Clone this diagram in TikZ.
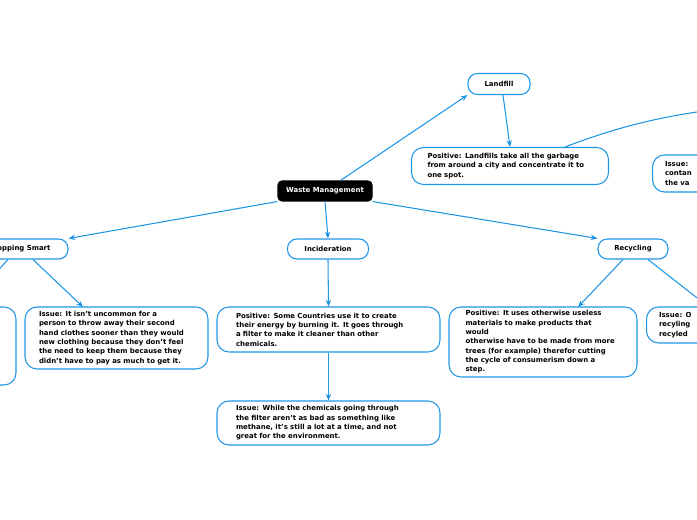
\documentclass[tikz,border=0pt]{standalone}
\usepackage{fontspec}
\setmainfont{DejaVu Sans}
\usetikzlibrary{arrows.meta}
\definecolor{lineblue}{RGB}{30,150,230}
\begin{document}
\begin{tikzpicture}[x=0.75pt,y=-0.75pt,
  box/.style={draw=lineblue, line width=0.8pt, rounded corners=9pt, fill=white, font=\bfseries\fontsize{5.2}{7}\selectfont, align=left, inner sep=0pt},
  topic/.style={box, rounded corners=7pt, align=center},
  link/.style={draw=lineblue, line width=0.8pt, -{Stealth[length=5pt,width=4pt]}},
  plain/.style={draw=lineblue, line width=0.8pt}]
\useasboundingbox (0,0) rectangle (697,520);
\clip (0,0) rectangle (697,520);
\node[box, draw=black, fill=black, text=white, rounded corners=3pt, minimum width=94pt*0.75, minimum height=20pt*0.75, align=center] (wm) at (325,191) {Waste Management};
\node[topic, minimum width=62*0.75pt, minimum height=21*0.75pt] (lf) at (499,84) {Landfill};
\node[box, minimum width=197*0.75pt, minimum height=37*0.75pt, text width=165*0.75pt] (lfp) at (510,166) {Positive: Landfills take all the garbage\\from around a city and concentrate it to\\one spot.};
\node[box, minimum width=110*0.75pt, minimum height=37*0.75pt, text width=85*0.75pt, anchor=west] (lfi) at (652,173.5) {Issue: \\contan\\the va};
\node[topic, minimum width=98*0.75pt, minimum height=20*0.75pt] (sh) at (19,249) {Shopping Smart};
\node[topic, minimum width=81*0.75pt, minimum height=20*0.75pt] (in) at (328,249) {Incideration};
\node[topic, minimum width=70*0.75pt, minimum height=20*0.75pt] (rc) at (633,249) {Recycling};
\node[box, minimum width=183*0.75pt, minimum height=62*0.75pt, text width=155*0.75pt] (shi) at (116.5,338) {Issue: It isn't uncommon for a\\person to throw away their second\\hand clothes sooner than they would\\new clothing because they don't feel\\the need to keep them because they\\didn't have to pay as much to get it.};
\node[box, minimum width=60*0.75pt, minimum height=78*0.75pt] (shp) at (-14,346) {};
\node[box, minimum width=223*0.75pt, minimum height=45*0.75pt, text width=185*0.75pt] (inp) at (328.5,329.5) {Positive: Some Countries use it to create\\their energy by burning it. It goes through\\a filter to make it cleaner than other\\chemicals.};
\node[box, minimum width=223*0.75pt, minimum height=44*0.75pt, text width=185*0.75pt] (ini) at (328.5,423) {Issue: While the chemicals going through\\the filter aren't as bad as something like\\methane, it's still a lot at a time, and not\\great for the environment.};
\node[box, minimum width=188*0.75pt, minimum height=70*0.75pt, text width=155*0.75pt] (rcp) at (543,342) {Positive: It uses otherwise useless\\materials to make products that\\would\\otherwise have to be made from more\\trees (for example) therefor cutting\\the cycle of consumerism down a\\step.};
\node[box, minimum width=110*0.75pt, minimum height=36*0.75pt, text width=85*0.75pt, anchor=west] (rci) at (646,325) {Issue: O\\recyling\\recyled};
\coordinate (far) at (770,105);
\coordinate (shl) at (-20,290);
\draw[link] (wm.north east) ++(-32,0) -- (lf.south west);
\draw[link] (lf.south) ++(4,0) -- (lfp.north);
\draw[plain] (lfp.north) ++(55,0) .. controls (610,130) and (670,110) .. (far);
\draw[link] (wm.south west) -- (sh.north east);
\draw[link] (wm.south) -- (in.north);
\draw[link] (wm.south east) -- (rc.north west);
\draw[link] (sh.south) ++(14,0) -- (83,307);
\draw[plain] (sh.south) ++(-11,0) -- (shl);
\draw[link] (in.south) -- (inp.north);
\draw[link] (inp.south) -- (ini.north);
\draw[link] (rc.south) ++(-10,0) -- (578,307);
\draw[link] (rc.south) ++(15,0) -- (710,308);
\end{tikzpicture}
\end{document}
